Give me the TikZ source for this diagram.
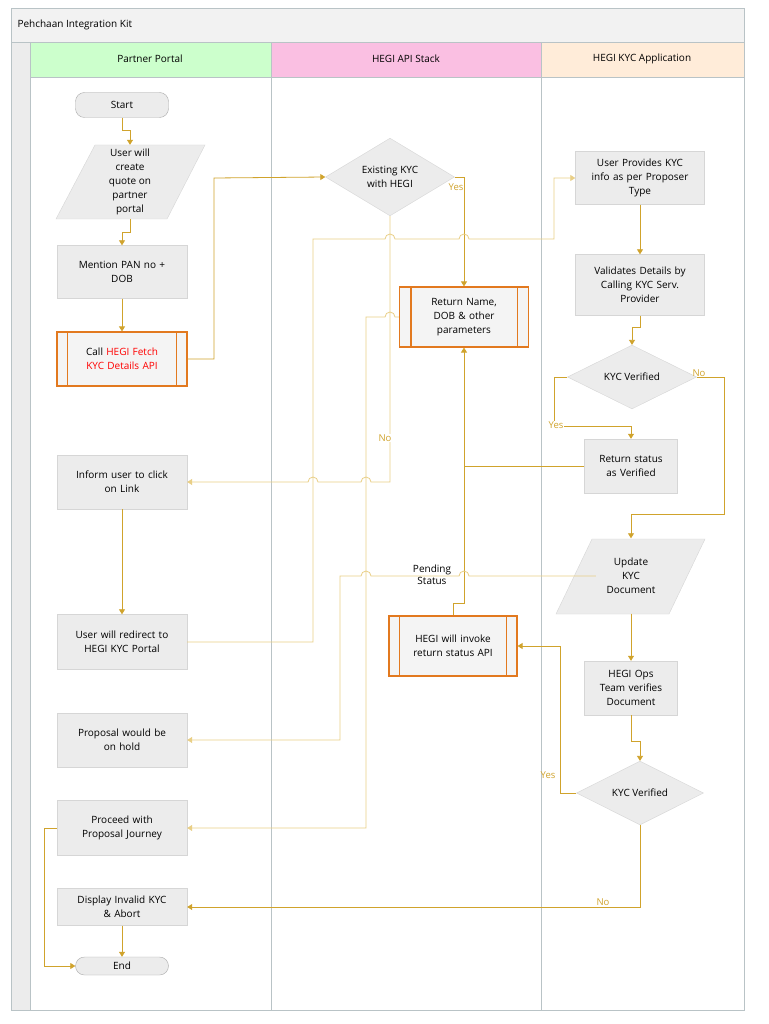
\documentclass[tikz,border=0pt]{standalone}
\usepackage{fontspec}
\setmainfont{Open Sans}
\usetikzlibrary{shapes.geometric,arrows.meta}
\definecolor{gold}{HTML}{D0A32C}
\definecolor{lgold}{HTML}{E9CF86}
\definecolor{boxf}{HTML}{ECECEC}
\definecolor{boxd}{HTML}{D6D6D6}
\definecolor{org}{HTML}{E2791F}
\definecolor{lane}{HTML}{B9C3C6}
\begin{document}
\begin{tikzpicture}[x=1pt,y=-1pt,font=\fontsize{10}{14}\selectfont,
  box/.style={draw=boxd,fill=boxf,align=center,inner sep=1pt},
  pp/.style={draw=org,line width=1.2pt,fill=boxf!60!white,align=center,inner sep=1pt},
  dia/.style={diamond,draw=boxd,fill=boxf,align=center,inner sep=0pt},
  term/.style={draw=boxd!80!black,fill=boxf,rounded corners=9pt,align=center},
  con/.style={draw=gold,line width=0.8pt,-{Triangle[width=6pt,length=5pt]}},
  lcon/.style={draw=lgold,line width=0.8pt,-{Triangle[width=6pt,length=5pt]}},
  plain/.style={draw=gold,line width=0.8pt},
  lab/.style={text=gold,font=\fontsize{9.5}{12}\selectfont,inner sep=1pt}]
\useasboundingbox (0,0) rectangle (768,1024);
% frame
\fill[white] (11,8) rectangle (744,1010);
\fill[boxf!70!white] (11,8) rectangle (744,42);
\fill[boxf] (11,42) rectangle (30,1010);
\fill[green!20] (30,42) rectangle (271,77);
\fill[magenta!25] (271,42) rectangle (541,77);
\fill[orange!15] (541,42) rectangle (744,77);
\draw[lane] (11,8) rectangle (744,1010);
\draw[lane] (11,42) -- (744,42);
\draw[lane] (30,77) -- (744,77);
\draw[lane] (30,42) -- (30,1010);
\draw[lane] (271,42) -- (271,1010);
\draw[lane] (541,42) -- (541,1010);
\node[anchor=west] (title) at (14,25) {Pehchaan Integration Kit};
\node (h1) at (150,59) {Partner Portal};
\node (h2) at (406,59) {HEGI API Stack};
\node (h3) at (642,59) {HEGI KYC Application};
% nodes left
\node[term,minimum width=93,minimum height=25] (start) at (122,105) {Start};
\fill[boxf,draw=boxd] (95,145) -- (205,145) -- (167,219) -- (56,219) -- cycle;
\node[align=center,inner sep=0pt,minimum width=70,minimum height=74] (quote) at (130,182) {User will\\create\\quote on\\partner\\portal};
\node[box,minimum width=130,minimum height=53,text width=124] (pan) at (122,272) {Mention PAN no +\\DOB};
\node[pp,minimum width=130,minimum height=54,text width=100] (call) at (122,359) {Call \textcolor{red}{HEGI Fetch KYC Details API}};
\node[box,minimum width=130,minimum height=54,text width=124] (inform) at (122,482) {Inform user to click\\on Link};
\node[box,minimum width=130,minimum height=55,text width=124] (redir) at (122,642) {User will redirect to\\HEGI KYC Portal};
\node[box,minimum width=130,minimum height=54,text width=124] (hold) at (122,740) {Proposal would be\\on hold};
\node[box,minimum width=130,minimum height=55,text width=124] (proc) at (122,828) {Proceed with\\Proposal Journey};
\node[box,minimum width=130,minimum height=37,text width=124] (disp) at (122,907) {Display Invalid KYC\\\& Abort};
\node[term,minimum width=93,minimum height=18,inner sep=1pt] (end) at (122,966) {End};
% middle
\node[dia,minimum width=129,minimum height=54] (exist) at (390,177) {Existing KYC\\with HEGI};
\node[pp,minimum width=129,minimum height=60,text width=100] (retname) at (464,317) {Return Name,\\DOB \& other\\parameters};
\node[pp,minimum width=128,minimum height=60,text width=104] (invoke) at (453,646) {HEGI will invoke\\return status API};
% right
\node[box,minimum width=129,minimum height=53,text width=126] (provide) at (640,178) {User Provides KYC\\info as per Proposer\\Type};
\node[box,minimum width=129,minimum height=61,text width=126] (valid) at (640,285) {Validates Details by\\Calling KYC Serv.\\Provider};
\node[dia,minimum width=129,minimum height=54] (kyc1) at (632,377) {KYC Verified};
\node[box,minimum width=93,minimum height=54,text width=90] (retstat) at (631,466) {Return status\\as Verified};
\fill[boxf,draw=boxd] (592,539) -- (705,539) -- (669,614) -- (556,614) -- cycle;
\node[align=center,inner sep=0pt,minimum width=70,minimum height=75] (upd) at (631,576) {Update\\KYC\\Document};
\node[box,minimum width=93,minimum height=54,text width=90] (ops) at (631,688) {HEGI Ops\\Team verifies\\Document};
\node[dia,minimum width=127,minimum height=52] (kyc2) at (640,793) {KYC Verified};
% inner lines of predefined process boxes
\foreach \n/\d in {call/11,retname/12,invoke/11}{
  \draw[org,line width=1.2pt] ([xshift=\d]\n.north west) -- ([xshift=\d]\n.south west);
  \draw[org,line width=1.2pt] ([xshift=-\d]\n.north east) -- ([xshift=-\d]\n.south east);}
% connectors left
\draw[con] (start.south) -- (122,130) -- (130,130) -- (quote.north);
\draw[con] (quote.south) -- (130,232) -- (122,232) -- (pan.north);
\draw[con] (pan.south) -- (call.north);
\draw[con] (call.east) -- (214,359) -- (214,178) -- (exist.west);
\draw[con] (exist.east) -- (464,177) -- (retname.north);
\node[lab] (yes1) at (456,187) {Yes};
% No from existing
\draw[lcon] (exist.south) -- (390,482) -- (371,482) arc[start angle=0,end angle=-180,radius=5]
  -- (318,482) arc[start angle=0,end angle=-180,radius=5] -- (inform.east);
\node[lab,fill=white] (no1) at (385,438) {No};
\draw[con] (inform.south) -- (redir.north);
% redirect -> provide
\draw[lcon] (redir.east) -- (313,642) -- (313,239) -- (385,239) arc[start angle=180,end angle=360,radius=5]
  -- (459,239) arc[start angle=180,end angle=360,radius=5] -- (554,239) -- (554,178) -- (provide.west);
% return name -> proceed
\draw[lcon] (retname.west) -- (395,317) arc[start angle=0,end angle=-180,radius=5] -- (366,317) -- (366,828) -- (proc.east);
\draw[con] (valid.north |- provide.south) -- (valid.north);
\draw[con] (valid.south) -- (640,327) -- (632,327) -- (kyc1.north);
\draw[con] (kyc1.west) -- (554,377) -- (554,426) -- (631,426) -- (retstat.north);
\node[lab,fill=white] (yes2) at (556,425) {Yes};
\draw[con] (kyc1.east) -- (724,377) -- (724,514) -- (631,514) -- (upd.north);
\node[lab] (no2) at (699,373) {No};
\draw[con] (retstat.west) -- (464,466) -- (retname.south);
\draw[plain] (invoke.north) -- (453,603) -- (464,603) -- (464,466);
% pending
\draw[lcon] (upd.west) -- (469,576) arc[start angle=0,end angle=-180,radius=5] -- (371,576) arc[start angle=0,end angle=-180,radius=5] -- (340,576) -- (340,740) -- (hold.east);
\node[align=center,font=\fontsize{10}{12}\selectfont] (pend) at (432,575) {Pending\\Status};
\draw[con] (upd.south) -- (ops.north);
\draw[con] (ops.south) -- (631,741) -- (640,741) -- (kyc2.north);
\draw[con] (kyc2.west) -- (560,793) -- (560,646) -- (invoke.east);
\node[lab] (yes3) at (548,775) {Yes};
\draw[con] (kyc2.south) -- (640,907) -- (disp.east);
\node[lab,fill=white] (no3) at (603,902) {No};
\draw[con] (disp.south) -- (end.north);
\draw[con] (proc.west) -- (44,828) -- (44,966) -- (end.west);
\end{tikzpicture}
\end{document}
